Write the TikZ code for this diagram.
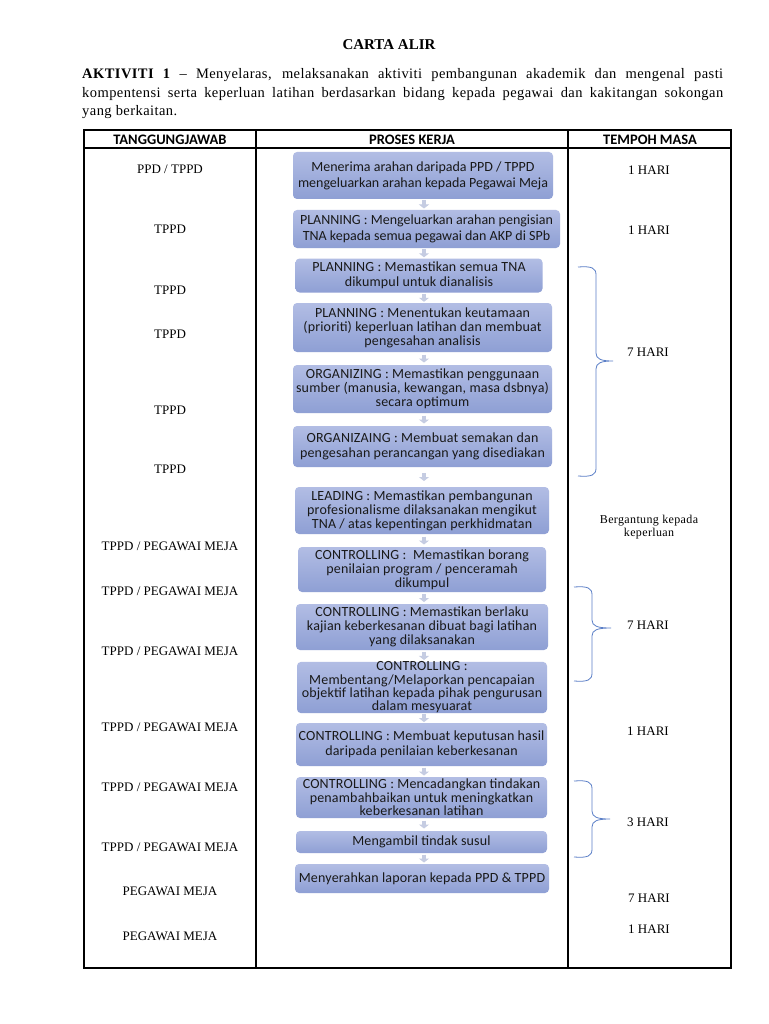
\documentclass[tikz,border=0pt]{standalone}
\usepackage{fontspec}
\setmainfont{Liberation Serif}
\newfontfamily\boxfont[LetterSpace=1.3]{Carlito}
\newfontfamily\headfont{Carlito}
\newfontfamily\parafont[LetterSpace=3]{Liberation Serif}
\newfontfamily\smallserif[LetterSpace=3]{Liberation Serif}
\usetikzlibrary{arrows.meta,calc}
\definecolor{boxtop}{HTML}{B2BDE4}
\definecolor{boxbot}{HTML}{8E9FD4}
\definecolor{arrowc}{HTML}{C5CCE2}
\definecolor{bracec}{HTML}{5B7FC7}
\newcommand\mybrace[6]{% x0, xv, xtip, ytop, ytip, ybot
  \draw[bracestyle] (#1,#4) .. controls ({#2-4},{#4-1}) and (#2,{#4+1}) .. (#2,{#4+8})
    -- (#2,{#5-8}) .. controls (#2,{#5-2}) and ({#2+5},#5) .. (#3,#5)
    .. controls ({#2+5},#5) and (#2,{#5+2}) .. (#2,{#5+8})
    -- (#2,{#6-8}) .. controls (#2,{#6-1}) and ({#2-4},{#6+1}) .. (#1,#6);}
\begin{document}
\begin{tikzpicture}[x=1pt,y=-1pt,
  procbox/.style={rounded corners=4pt, top color=boxtop, bottom color=boxbot, draw=none,
    font=\boxfont\fontsize{14}{14}\selectfont, align=center, inner sep=0pt, text=black!90},
  bigbox/.style={procbox, font=\headfont\fontsize{14}{16}\selectfont},
  flowarrow/.style={draw=arrowc, line width=4pt, -{Triangle[width=10pt,length=4pt]}},
  lefttxt/.style={font=\fontsize{13}{15}\selectfont, anchor=base, inner sep=0pt},
  righttxt/.style={font=\fontsize{13}{15}\selectfont, anchor=base, inner sep=0pt},
  headtxt/.style={font=\headfont\bfseries\fontsize{14.5}{16}\selectfont, inner sep=0pt},
  bracestyle/.style={draw=bracec, line width=0.8pt}]
\useasboundingbox (0,0) rectangle (768,1024);
\fill[white] (0,0) rectangle (768,1024);

% title and paragraph
\node[font=\bfseries\fontsize{15}{18}\selectfont, anchor=base, inner sep=0pt] (title) at (389,50) {CARTA ALIR};
\node[anchor=base west, inner sep=0pt, text width=641pt, align=justify,
  font=\parafont\fontsize{14.5}{18.5}\selectfont] (para) at (82,79)
  {\textbf{AKTIVITI 1} \textendash{} Menyelaras, melaksanakan aktiviti pembangunan akademik dan mengenal pasti\linebreak
   kompentensi serta keperluan latihan berdasarkan bidang kepada pegawai dan kakitangan sokongan\linebreak
   yang berkaitan.};

% table
\draw[line width=1.1pt] (84,130) rectangle (731,968);
\draw[line width=1.1pt] (84,148) -- (731,148);
\draw[line width=1.1pt] (256,130) -- (256,968);
\draw[line width=1.1pt] (568,130) -- (568,968);
\node[headtxt] (h1) at (170,139.5) {TANGGUNGJAWAB};
\node[headtxt] (h2) at (412,139.5) {PROSES KERJA};
\node[headtxt] (h3) at (650,139.5) {TEMPOH MASA};

% process boxes
\node[bigbox, minimum width=260pt, minimum height=47pt] (b1) at (423,175.5) {Menerima arahan daripada PPD / TPPD\\mengeluarkan arahan kepada Pegawai Meja};
\node[bigbox, minimum width=267pt, minimum height=38pt] (b2) at (426.5,229) {PLANNING : Mengeluarkan arahan pengisian\\TNA kepada semua pegawai dan AKP di SPb};
\node[procbox, minimum width=247pt, minimum height=34pt, font=\boxfont\fontsize{14}{15}\selectfont] (b3) at (419,275.5) {PLANNING : Memastikan semua TNA\\dikumpul untuk dianalisis};
\node[procbox, minimum width=259pt, minimum height=49pt] (b4) at (422.5,327.5) {PLANNING : Menentukan keutamaan\\(prioriti) keperluan latihan dan membuat\\pengesahan analisis};
\node[procbox, minimum width=259pt, minimum height=48pt] (b5) at (422.5,389) {ORGANIZING : Memastikan penggunaan\\sumber (manusia, kewangan, masa dsbnya)\\secara optimum};
\node[procbox, minimum width=259pt, minimum height=41pt, font=\boxfont\fontsize{14}{15.5}\selectfont] (b6) at (422.5,446.5) {ORGANIZAING : Membuat semakan dan\\pengesahan perancangan yang disediakan};
\node[procbox, minimum width=254pt, minimum height=47pt] (b7) at (422,510.5) {LEADING : Memastikan pembangunan\\profesionalisme dilaksanakan mengikut\\TNA / atas kepentingan perkhidmatan};
\node[procbox, minimum width=248pt, minimum height=45pt] (b8) at (422,569.5) {CONTROLLING :\ \ Memastikan borang\\penilaian program / penceramah\\dikumpul};
\node[procbox, minimum width=252pt, minimum height=46pt] (b9) at (422,627) {CONTROLLING : Memastikan berlaku\\kajian keberkesanan dibuat bagi latihan\\yang dilaksanakan};
\node[procbox, minimum width=250pt, minimum height=49pt, font=\boxfont\fontsize{14}{13.3}\selectfont] (b10) at (422,687.5) {CONTROLLING :\\Membentang/Melaporkan pencapaian\\objektif latihan kepada pihak pengurusan\\dalam mesyuarat};
\node[procbox, minimum width=251pt, minimum height=43pt, font=\boxfont\fontsize{14}{15.5}\selectfont] (b11) at (421.5,744.5) {CONTROLLING : Membuat keputusan hasil\\daripada penilaian keberkesanan};
\node[procbox, minimum width=251pt, minimum height=41pt, font=\boxfont\fontsize{14}{13.5}\selectfont] (b12) at (421.5,797.5) {CONTROLLING : Mencadangkan tindakan\\penambahbaikan untuk meningkatkan\\keberkesanan latihan};
\node[procbox, minimum width=251pt, minimum height=22pt] (b13) at (421.5,842) {Mengambil tindak susul};
\node[procbox, minimum width=254pt, minimum height=29pt] (b14) at (422,878.5) {Menyerahkan laporan kepada PPD \& TPPD};

\foreach \a/\b in {b1/b2,b2/b3,b3/b4,b4/b5,b5/b6,b6/b7,b7/b8,b8/b9,b9/b10,b10/b11,b11/b12,b12/b13,b13/b14}{
  \coordinate (m) at ($(\a.south -| 424,0)!0.5!(\b.north -| 424,0)$);
  \draw[flowarrow] ($(m)+(0,-4)$) -- ($(m)+(0,4)$);
}

% left column
\node[lefttxt] (l1) at (170,173.5) {PPD / TPPD};
\node[lefttxt] (l2) at (170,233.5) {TPPD};
\node[lefttxt] (l3) at (170,294.5) {TPPD};
\node[lefttxt] (l4) at (170,338.5) {TPPD};
\node[lefttxt] (l5) at (170,414.5) {TPPD};
\node[lefttxt] (l6) at (170,473.5) {TPPD};
\node[lefttxt] (l7) at (170,550.5) {TPPD / PEGAWAI MEJA};
\node[lefttxt] (l8) at (170,595.5) {TPPD / PEGAWAI MEJA};
\node[lefttxt] (l9) at (170,655.5) {TPPD / PEGAWAI MEJA};
\node[lefttxt] (l10) at (170,731.5) {TPPD / PEGAWAI MEJA};
\node[lefttxt] (l11) at (170,791.5) {TPPD / PEGAWAI MEJA};
\node[lefttxt] (l12) at (170,851.5) {TPPD / PEGAWAI MEJA};
\node[lefttxt] (l13) at (170,895.5) {PEGAWAI MEJA};
\node[lefttxt] (l14) at (170,940.5) {PEGAWAI MEJA};

% right column
\node[righttxt] (t1) at (649,174.5) {1 HARI};
\node[righttxt] (t2) at (649,234.5) {1 HARI};
\node[righttxt] (t3) at (648,356.5) {7 HARI};
\node[font=\smallserif\fontsize{12}{13.5}\selectfont, align=center, inner sep=0pt] (t4) at (649,527) {Bergantung kepada\\keperluan};
\node[righttxt] (t5) at (648,629.5) {7 HARI};
\node[righttxt] (t6) at (648,735.5) {1 HARI};
\node[righttxt] (t7) at (648,826.5) {3 HARI};
\node[righttxt] (t8) at (649,902.5) {7 HARI};
\node[righttxt] (t9) at (649,933.5) {1 HARI};

% braces
\mybrace{578}{596}{613}{267}{361}{476}
\mybrace{574}{592}{611}{587}{628}{681}
\mybrace{574}{592}{610}{781}{819}{857}
\end{tikzpicture}
\end{document}
